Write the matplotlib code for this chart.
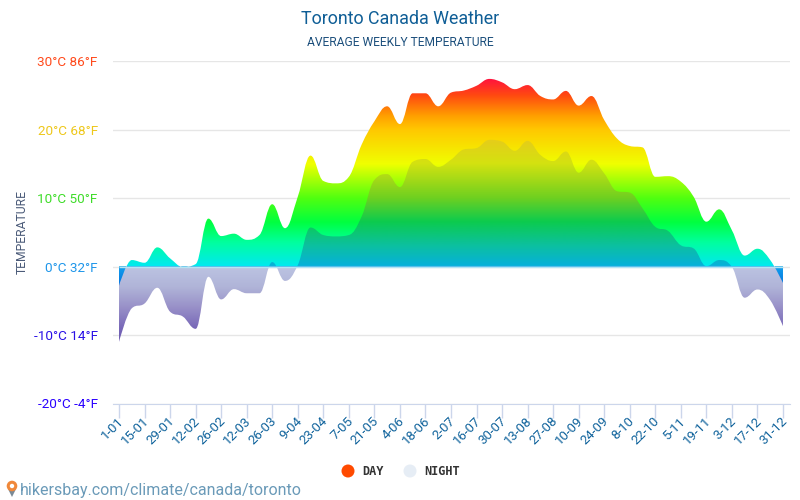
import numpy as np
import matplotlib
matplotlib.use('Agg')
import matplotlib.pyplot as plt
from matplotlib.colors import LinearSegmentedColormap, Normalize
from matplotlib.patches import Circle, PathPatch, Polygon
from matplotlib.path import Path
from matplotlib.transforms import ScaledTranslation

plt.rcParams['font.family'] = ['Roboto', 'DejaVu Sans']

# weekly values
day = [-2.8, 0.95, 0.55, 2.8, 1.2, -0.05, 0.35, 7.0, 4.45, 4.8, 3.9, 4.6, 9.1, 5.6,
       10.2, 16.2, 12.5, 12.15, 13.1, 17.8, 21.2, 23.4, 20.8, 25.3, 25.3, 23.4, 25.4,
       25.7, 26.4, 27.4, 26.9, 25.9, 26.5, 24.9, 24.4, 25.65, 23.5, 24.9, 21.4, 18.7,
       17.6, 17.4, 13.1, 13.2, 12.4, 10.2, 6.55, 8.35, 5.3, 1.6, 2.6, 0.95, -2.4]
night = [-11.0, -6.1, -5.4, -3.1, -6.6, -7.3, -9.1, -1.5, -4.8, -3.3, -3.9, -3.9, 0.65,
         -2.1, 0.2, 5.7, 4.6, 4.4, 4.6, 7.3, 12.65, 13.5, 11.6, 15.3, 15.7, 14.55, 15.6,
         17.1, 17.3, 18.5, 18.25, 16.9, 18.35, 16.3, 15.4, 16.8, 13.7, 15.6, 13.6, 11.0,
         10.8, 8.5, 5.8, 5.2, 3.1, 2.65, 0.05, 0.95, -0.05, -4.55, -3.35, -4.9, -8.7]
week_labels = ['1-01', '15-01', '29-01', '12-02', '26-02', '12-03', '26-03', '9-04',
               '23-04', '7-05', '21-05', '4-06', '18-06', '2-07', '16-07', '30-07',
               '13-08', '27-08', '10-09', '24-09', '8-10', '22-10', '5-11', '19-11',
               '3-12', '17-12', '31-12']
temps_c = [30, 20, 10, 0, -10, -20]
temp_labels = ['30°C 86°F', '20°C 68°F', '10°C 50°F', '0°C 32°F', '-10°C 14°F', '-20°C -4°F']
temp_colors = ['#ff4a1c', '#eec81c', '#3fdc2a', '#1e96ea', '#2a10e6', '#2a00ff']

day_stops = [(0, '#00e8f2'), (3.5, '#00ffa0'), (6.5, '#00ff40'),
             (10, '#50ff10'), (15, '#f0ff00'), (20, '#ffc800'), (22, '#ffa000'),
             (25, '#ff4a10'), (27.5, '#ff1040')]
cold_stops = [(-3, '#0070e0'), (0, '#14a0ec')]
night_stops = [(-11, '#6a58b0'), (-9, '#7868b8'), (-6, '#9890c8'), (-3, '#b0b4d8'),
               (-0.01, '#bcc4e2'), (0, '#06b0dc'), (3, '#0cc0a0'), (6.5, '#0ccb4e'),
               (10, '#6fd020'), (15, '#d4e210'), (18.5, '#e6cc1a')]


def spline_path(values):
    # same smoothing as a highcharts areaspline
    n = len(values)
    verts = [(0, 0), (0, values[0])]
    right = (0, values[0])
    for i in range(1, n):
        y = values[i]
        if i < n - 1:
            last, nxt = values[i - 1], values[i + 1]
            lx, ly = (1.5 * i + i - 1) / 2.5, (1.5 * y + last) / 2.5
            rx, ry = (1.5 * i + i + 1) / 2.5, (1.5 * y + nxt) / 2.5
            corr = (ry - ly) * (rx - i) / (rx - lx) + y - ry
            ly += corr
            ry += corr
            if ly > last and ly > y:
                ly = max(last, y)
                ry = 2 * y - ly
            elif ly < last and ly < y:
                ly = min(last, y)
                ry = 2 * y - ly
            if ry > nxt and ry > y:
                ry = max(nxt, y)
                ly = 2 * y - ry
            elif ry < nxt and ry < y:
                ry = min(nxt, y)
                ly = 2 * y - ry
        else:
            lx, ly, rx, ry = i, y, i, y
        verts += [right, (lx, ly), (i, y)]
        right = (rx, ry)
    verts += [(n - 1, 0), (0, 0)]
    codes = [Path.MOVETO, Path.LINETO] + [Path.CURVE4] * (3 * (n - 1)) + [Path.LINETO, Path.CLOSEPOLY]
    return Path(verts, codes)


def gradient_fill(ax, path, stops):
    lo, hi = stops[0][0], stops[-1][0]
    cmap = LinearSegmentedColormap.from_list(
        'grad', [((t - lo) / (hi - lo), c) for t, c in stops], N=1024)
    grid = np.linspace(lo, hi, 600)[:, None]
    im = ax.imshow(grid, origin='lower', aspect='auto', cmap=cmap, norm=Normalize(lo, hi),
                   extent=[-1, 53, lo, hi], zorder=2, interpolation='bilinear')
    im.set_clip_path(PathPatch(path, transform=ax.transData))
    return im


fig = plt.figure(figsize=(8, 5), dpi=100)
ax = fig.add_axes([113 / 800, (500 - 403.5) / 500, 677 / 800, 342.4 / 500])

day_path = spline_path(day)
night_path = spline_path(night)
gradient_fill(ax, day_path, day_stops)
gradient_fill(ax, night_path, night_stops)
# the cold end of the day series stays on top of the night area
gradient_fill(ax, day_path, cold_stops)
ax.hlines(0, 0, len(day) - 1, color='#b4e4f4', lw=1, zorder=3)

ax.set_xlim(-0.47, 52.55)
ax.set_ylim(-20, 30)
ax.set_yticks(temps_c)
ax.set_yticklabels(temp_labels, fontsize=9.7)
for lab, col in zip(ax.get_yticklabels(), temp_colors):
    lab.set_color(col)
ax.grid(True, axis='y', color='#e6e6e6', lw=1, zorder=1)
ax.set_axisbelow(True)
ax.tick_params(axis='y', length=0, pad=11)
ax.set_xticks(range(0, 53, 2))
ax.set_xticklabels(week_labels, rotation=45, ha='right', rotation_mode='anchor',
                   fontsize=9.5, color='#10639c')
ax.tick_params(axis='x', length=10, width=1, color='#ccd6eb', pad=-2)
shift = ScaledTranslation(-2 / 100, 0, fig.dpi_scale_trans)
for lab in ax.get_xticklabels():
    lab.set_transform(lab.get_transform() + shift)
for side in ['top', 'right', 'left']:
    ax.spines[side].set_visible(False)
ax.spines['bottom'].set_color('#ccd6eb')
ax.set_ylabel('TEMPERATURE', fontsize=8.7, color='#4a5a78')
ax.yaxis.set_label_coords(-0.124, 0.5)

# page furniture in pixel coordinates
page = fig.add_axes([0, 0, 1, 1], facecolor='none')
page.set_xlim(0, 800)
page.set_ylim(500, 0)
page.axis('off')
page.text(400, 18.5, 'Toronto Canada Weather', ha='center', va='center', fontsize=12.9, color='#0f5e96')
page.text(400, 42, 'AVERAGE WEEKLY TEMPERATURE', ha='center', va='center', fontsize=8.65, color='#1c4f7c')
page.add_patch(Circle((348, 471), 6.5, color='#ff4a00', lw=0))
page.text(362, 471.5, 'DAY', va='center', fontsize=8.6, fontweight='bold',
          family='DejaVu Sans Mono', color='#333333')
page.add_patch(Circle((410, 471), 6.5, color='#e6edf5', lw=0))
page.text(424, 471.5, 'NIGHT', va='center', fontsize=8.6, fontweight='bold',
          family='DejaVu Sans Mono', color='#333333')
page.add_patch(Polygon([(8, 489), (16, 489), (12, 497)], color='#7a8a96', lw=0))
page.add_patch(Circle((12, 486), 5.3, color='#f0883a', lw=0))
page.add_patch(Circle((12, 486), 2.2, color='white', lw=0))
page.text(20, 490.5, 'hikersbay.com/climate/canada/toronto', va='center', fontsize=11.55, color='#6a9ab8')

fig.savefig('out.png', dpi=100)
